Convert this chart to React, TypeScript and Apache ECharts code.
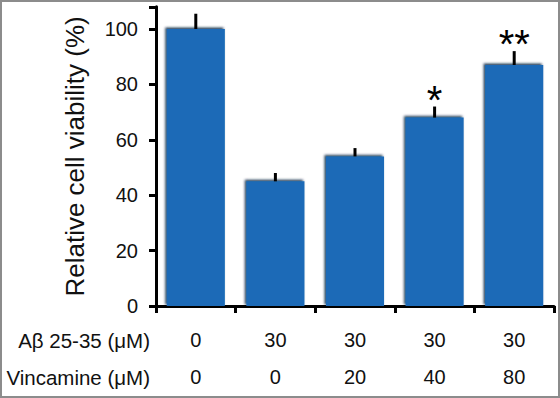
import React, { useEffect, useRef } from "react";
import * as echarts from "echarts";

const abConc = ["0", "30", "30", "30", "30"];
const vinConc = ["0", "0", "20", "40", "80"];
const viability = [100, 45, 54, 68, 87];
const errors = [5.5, 3, 3, 4, 5];
const significance = ["", "", "", "*", "**"];
const yTicks = [0, 20, 40, 60, 80, 100];

export default function App() {
  const ref = useRef<HTMLDivElement>(null);
  useEffect(() => {
    if (!ref.current) return;
    const chart = echarts.init(ref.current, undefined, { renderer: "svg" });
    const font = "'Liberation Sans', Arial, sans-serif";
    const categories = abConc.map((a, i) => `${a}\n${vinConc[i]}`);
    chart.setOption({
      animation: false,
      backgroundColor: "#ffffff",
      grid: { left: 156, right: 6, top: 6.8, bottom: 92, containLabel: false },
      xAxis: {
        type: "category",
        data: categories,
        boundaryGap: true,
        axisLine: { show: true, lineStyle: { color: "#000", width: 3 } },
        axisTick: { show: true, inside: false, length: 7, lineStyle: { color: "#000", width: 3 } },
        axisLabel: {
          color: "#111",
          fontFamily: font,
          fontSize: 20,
          lineHeight: 37,
          margin: 15,
          interval: 0,
        },
      },
      yAxis: {
        type: "value",
        min: 0,
        max: 108,
        interval: 20,
        name: "Relative cell viability (%)",
        nameLocation: "middle",
        nameGap: 68,
        nameRotate: 90,
        nameTextStyle: { color: "#111", fontFamily: font, fontSize: 26 },
        axisLine: { show: true, lineStyle: { color: "#000", width: 3 } },
        axisTick: { show: true, length: 7, lineStyle: { color: "#000", width: 3 } },
        axisLabel: {
          color: "#111",
          fontFamily: font,
          fontSize: 20,
          margin: 18,
          formatter: (v: number) => (yTicks.includes(v) ? String(v) : ""),
        },
        splitLine: { show: false },
      },
      series: [
        {
          type: "bar",
          data: viability,
          barWidth: "73%",
          itemStyle: {
            color: "#1a6bb7",
            shadowColor: "rgba(5,30,60,0.85)",
            shadowBlur: 2,
            shadowOffsetX: -1.5,
            shadowOffsetY: -1.5,
          },
          z: 2,
        },
        {
          type: "custom",
          z: 3,
          data: viability.map((v, i) => [i, v, errors[i]]),
          renderItem: (params: any, api: any) => {
            const i = api.value(0);
            const v = api.value(1);
            const e = api.value(2);
            const base = api.coord([i, v]);
            const top = api.coord([i, v + e]);
            const children: any[] = [
              {
                type: "line",
                shape: { x1: base[0], y1: base[1], x2: top[0], y2: top[1] },
                style: { stroke: "#000", lineWidth: 3 },
              },
            ];
            const sig = significance[i];
            if (sig) {
              children.push({
                type: "text",
                x: top[0],
                y: top[1] - 7,
                style: {
                  text: sig,
                  fill: "#000",
                  fontFamily: font,
                  fontSize: 40,
                  align: "center",
                  verticalAlign: "middle",
                },
              });
            }
            return { type: "group", children };
          },
        },
      ],
      graphic: [
        {
          type: "text",
          x: 150,
          y: 340,
          style: {
            text: "Aβ 25-35 (μM)",
            fill: "#111",
            fontFamily: font,
            fontSize: 20.5,
            align: "right",
            verticalAlign: "middle",
          },
        },
        {
          type: "text",
          x: 150,
          y: 377,
          style: {
            text: "Vincamine (μM)",
            fill: "#111",
            fontFamily: font,
            fontSize: 20.5,
            align: "right",
            verticalAlign: "middle",
          },
        },
        {
          type: "rect",
          shape: { x: 1, y: 1, width: 558, height: 396 },
          style: { fill: "none", stroke: "#8c8c8c", lineWidth: 2 },
          z: 10,
        },
      ],
    });
    return () => chart.dispose();
  }, []);
  return (
    <div
      ref={ref}
      style={{ position: "fixed", left: 0, top: 0, width: 560, height: 398 }}
    />
  );
}
